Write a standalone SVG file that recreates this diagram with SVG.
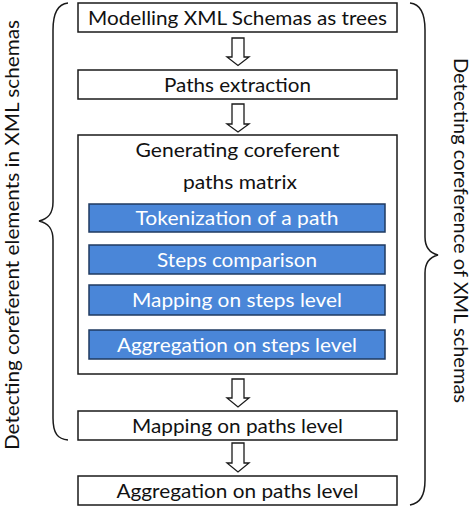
<svg xmlns="http://www.w3.org/2000/svg" width="474" height="530" viewBox="0 0 474 530">
<style>
.box{fill:#fff;stroke:#1a1a1a;stroke-width:1.5}
.blue{fill:#4a86d8;stroke:#1f3a60;stroke-width:1.5}
.t{font-family:Lato,"Open Sans",sans-serif;font-size:20px;fill:#111;text-anchor:middle}
.w{fill:#fff}
.arr{fill:#fff;stroke:#1a1a1a;stroke-width:1.3;stroke-linejoin:miter}
.brace{fill:none;stroke:#1a1a1a;stroke-width:1.5}
</style>
<rect width="474" height="530" fill="#fff"/>
<g id="connectors">
<path class="arr" d="M232,38 H244 V57 H249 L238,65.5 L227,57 H232 Z"/>
<path class="arr" d="M232,104 H244 V124 H249 L238,132 L227,124 H232 Z"/>
<path class="arr" d="M232,379 H244 V398 H249 L238,407 L227,398 H232 Z"/>
<path class="arr" d="M232,443 H244 V463 H249 L238,472 L227,463 H232 Z"/>
</g>
<g id="n1"><rect class="box" x="78" y="3" width="319" height="29"/><text class="t" x="237.5" y="25" textLength="299" lengthAdjust="spacingAndGlyphs">Modelling XML Schemas as trees</text></g>
<g id="n2"><rect class="box" x="78" y="70" width="319" height="29"/><text class="t" x="237.5" y="92" textLength="147" lengthAdjust="spacingAndGlyphs">Paths extraction</text></g>
<g id="n3"><rect class="box" x="78" y="135" width="319" height="239"/><text class="t" x="237.5" y="157" textLength="204" lengthAdjust="spacingAndGlyphs">Generating coreferent</text><text class="t" x="240" y="189" textLength="114" lengthAdjust="spacingAndGlyphs">paths matrix</text></g>
<g id="n3a"><rect class="blue" x="89" y="204" width="296" height="28"/><text class="t w" x="237" y="225" textLength="203" lengthAdjust="spacingAndGlyphs">Tokenization of a path</text></g>
<g id="n3b"><rect class="blue" x="89" y="245" width="296" height="29"/><text class="t w" x="237" y="267" textLength="160" lengthAdjust="spacingAndGlyphs">Steps comparison</text></g>
<g id="n3c"><rect class="blue" x="89" y="285" width="296" height="30"/><text class="t w" x="237" y="307" textLength="210" lengthAdjust="spacingAndGlyphs">Mapping on steps level</text></g>
<g id="n3d"><rect class="blue" x="89" y="330" width="296" height="29"/><text class="t w" x="237" y="352" textLength="240" lengthAdjust="spacingAndGlyphs">Aggregation on steps level</text></g>
<g id="n4"><rect class="box" x="78" y="411" width="319" height="29"/><text class="t" x="237.5" y="433" textLength="211" lengthAdjust="spacingAndGlyphs">Mapping on paths level</text></g>
<g id="n5"><rect class="box" x="78" y="476" width="319" height="29"/><text class="t" x="237.5" y="498" textLength="242" lengthAdjust="spacingAndGlyphs">Aggregation on paths level</text></g>
<g id="left-brace">
<path class="brace" d="M68,3 C58,4 53,12 53,30 L53,202 C53,214 48,219 39,221 C48,223 53,228 53,240 L53,418 C53,434 58,439 68,440"/>
<text class="t" transform="translate(19,235) rotate(-90)" textLength="430" lengthAdjust="spacingAndGlyphs">Detecting coreferent elements in XML schemas</text>
</g>
<g id="right-brace">
<path class="brace" d="M410,3 C420,4 425,12 425,30 L425,237 C425,248 430,253 438,255 C430,257 425,262 425,273 L425,480 C425,496 420,503 410,505"/>
<text class="t" transform="translate(454,230.5) rotate(90)" textLength="345" lengthAdjust="spacingAndGlyphs">Detecting coreference of XML schemas</text>
</g>
</svg>
